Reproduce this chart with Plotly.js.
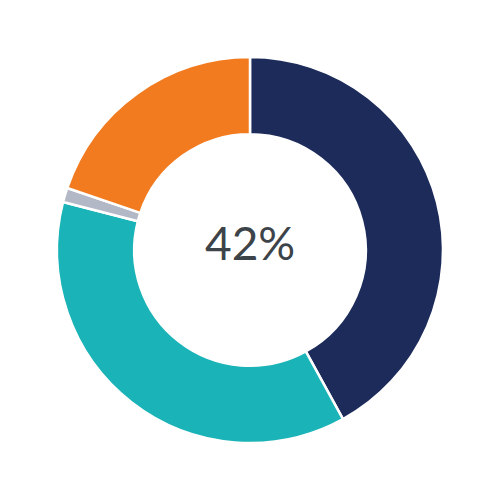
<!DOCTYPE html>
<html>
<head>
<meta charset="utf-8">
<script src="https://cdn.plot.ly/plotly-3.0.1.min.js"></script>
<style>
  html, body { margin: 0; padding: 0; background: #fff; }
  #chart { width: 500px; height: 500px; }
</style>
</head>
<body>
<div id="chart"></div>
<script>
var labels = ['A', 'B', 'C', 'D'];
var values = [42, 37, 1.2, 19.8];
var colors = ['#1c2b5a', '#1ab3b7', '#b3b8c6', '#f27b20'];
var centerText = '42%';

var trace = {
    type: 'pie',
    labels: labels,
    values: values,
    hole: 0.6,
    sort: false,
    direction: 'clockwise',
    rotation: 0,
    textinfo: 'none',
    hoverinfo: 'label+percent',
    marker: {colors: colors, line: {color: '#ffffff', width: 2.5}},
    domain: {x: [0.114, 0.886], y: [0.114, 0.886]}
};

var layout = {
    width: 500,
    height: 500,
    margin: {l: 0, r: 0, t: 0, b: 0},
    showlegend: false,
    paper_bgcolor: '#ffffff',
    annotations: [{
        text: centerText,
        x: 0.5,
        y: 0.516,
        xref: 'paper',
        yref: 'paper',
        showarrow: false,
        font: {family: 'Lato, "Open Sans", sans-serif', size: 46, color: '#3d4449'}
    }]
};

Plotly.newPlot('chart', [trace], layout, {displayModeBar: false});
</script>
</body>
</html>
